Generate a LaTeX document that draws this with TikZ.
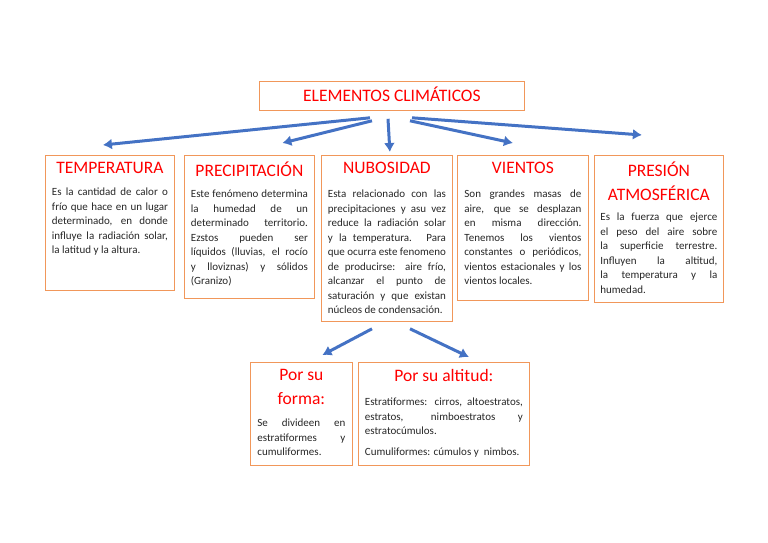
\documentclass[tikz,border=0pt]{standalone}
\usepackage{fontspec}
\setmainfont{Carlito}
\usetikzlibrary{calc,arrows.meta}
\hyphenpenalty=10000
\exhyphenpenalty=10000
\definecolor{oline}{HTML}{ED7D31}
\definecolor{arr}{HTML}{4472C4}
\tikzset{
 x=1pt,y=-1pt,
 cbox/.style={draw=oline!80,line width=0.8pt,inner sep=0,anchor=north west},
 ttl/.style={text=red,font=\fontsize{17.5}{24}\selectfont,align=center,anchor=north,inner sep=0},
 body/.style={font=\fontsize{11}{14.5}\selectfont,align=justify,anchor=north,inner sep=0,text=black!85},
 conn/.style={draw=arr,line width=3pt,-{Latex[length=9pt,width=11pt]}}
}
\begin{document}
\begin{tikzpicture}
\useasboundingbox (0,0) rectangle (768,543);
\node[cbox,minimum width=265,minimum height=29] (t) at (259,81) {};
\node[ttl] at ($(t.north)+(0,6)$) {ELEMENTOS CLIMÁTICOS};
\node[cbox,minimum width=129,minimum height=135] (b1) at (45,155) {};
\node[cbox,minimum width=130,minimum height=143] (b2) at (184,155) {};
\node[cbox,minimum width=131,minimum height=166] (b3) at (321,155) {};
\node[cbox,minimum width=131,minimum height=145] (b4) at (457,155) {};
\node[cbox,minimum width=129,minimum height=147] (b5) at (594,155) {};
\node[cbox,minimum width=102,minimum height=103] (b6) at (250,362) {};
\node[cbox,minimum width=171,minimum height=103] (b7) at (358,362) {};
\node[ttl] at ($(b1.north)+(0,7)$) {TEMPERATURA};
\node[ttl] at ($(b2.north)+(0,7)$) {PRECIPITACIÓN};
\node[ttl] at ($(b3.north)+(0,7)$) {NUBOSIDAD};
\node[ttl] at ($(b4.north)+(0,7)$) {VIENTOS};
\node[ttl] at ($(b5.north)+(0,7)$) {PRESIÓN\\ATMOSFÉRICA};
\node[ttl] at ($(b6.north)+(0,7)$) {Por su\\forma:};
\node[ttl] at ($(b7.north)+(0,7)$) {Por su altitud:};
\node[body,text width=116] at ($(b1.north)+(0,33)$) {Es la cantidad de calor o frío que hace en un lugar determinado, en donde influye la radiación solar, la latitud y la altura.};
\node[body,text width=117] at ($(b2.north)+(0,35)$) {Este fenómeno determina la humedad de un determinado territorio. Ezstos pueden ser líquidos (lluvias, el rocío y lloviznas) y sólidos (Granizo)};
\node[body,text width=118] at ($(b3.north)+(0,35)$) {Esta relacionado con las precipitaciones y asu vez reduce la radiación solar y la temperatura. Para que ocurra este fenomeno de producirse: aire frío, alcanzar el punto de saturación y que existan núcleos de condensación.};
\node[body,text width=117] at ($(b4.north)+(0,35)$) {Son grandes masas de aire, que se desplazan en misma dirección. Tenemos los vientos constantes o periódicos, vientos estacionales y los vientos locales.};
\node[body,text width=117] at ($(b5.north)+(0,58)$) {Es la fuerza que ejerce el peso del aire sobre la superficie terrestre. Influyen la altitud, la temperatura y la humedad.};
\node[body,text width=88] at ($(b6.north)+(0,57)$) {Se divideen en estratiformes y cumuliformes.};
\node[body,text width=158] at ($(b7.north)+(0,36)$) {Estratiformes: cirros, altoestratos, estratos, nimboestratos y estratocúmulos.\par\vspace{6pt}Cumuliformes: cúmulos y\ \ nimbos.};
\draw[conn] ($(t.south west)+(111,7)$) -- ($(b1.north)+(-7,-10)$);
\draw[conn] ($(t.south west)+(113,10)$) -- ($(b2.north)+(33,-12)$);
\draw[conn] ($(t.south west)+(129,8)$) -- ($(b3.north)+(3,-3)$);
\draw[conn] ($(t.south west)+(151,10)$) -- ($(b4.north)+(-10,-12)$);
\draw[conn] ($(t.south west)+(153,7)$) -- ($(b5.north)+(-17,-20)$);
\draw[conn] ($(b3.south west)+(51,7)$) -- ($(b6.north)+(21,-7)$);
\draw[conn] ($(b3.south west)+(89,7)$) -- ($(b7.north)+(25,-5)$);
\end{tikzpicture}
\end{document}
